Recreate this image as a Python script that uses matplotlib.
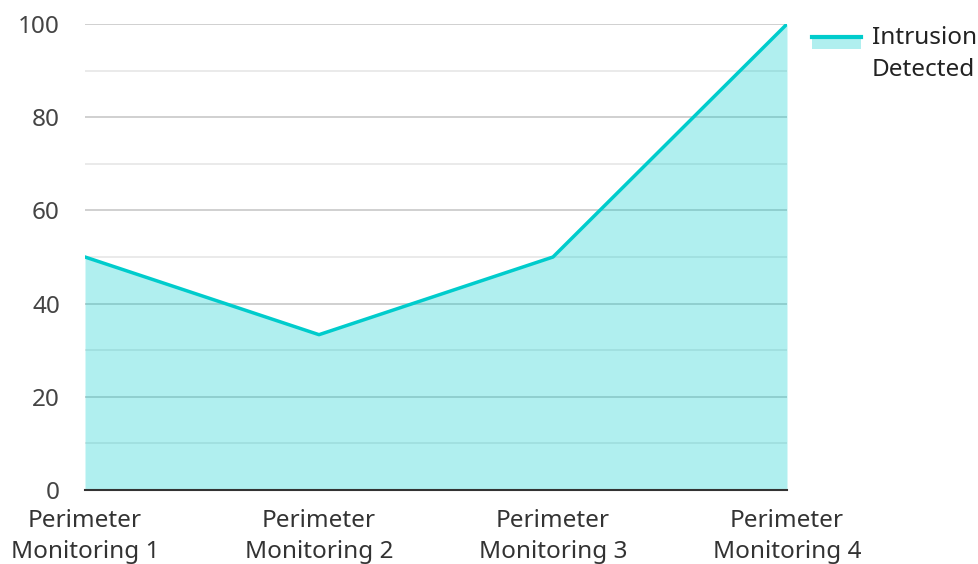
import matplotlib.pyplot as plt
from matplotlib.patches import Rectangle
from matplotlib.lines import Line2D
from matplotlib.legend_handler import HandlerBase

plt.rcParams["font.family"] = ["Noto Sans", "DejaVu Sans"]

categories = ["Perimeter\nMonitoring 1", "Perimeter\nMonitoring 2",
              "Perimeter\nMonitoring 3", "Perimeter\nMonitoring 4"]
intrusion = [50, 33.33, 50, 100]
series_label = "Intrusion\nDetected"

LINE = "#00cccc"
FILL_ALPHA = 0.31


class AreaHandler(HandlerBase):
    def create_artists(self, legend, orig, xd, yd, w, h, fontsize, trans):
        top = yd + h * 0.72 + 10
        patch = Rectangle((xd, top - 8.6), w, 8.6, facecolor=LINE,
                          alpha=FILL_ALPHA, edgecolor="none", transform=trans)
        line = Line2D([xd, xd + w], [top, top], color=LINE,
                      lw=3, transform=trans)
        return [patch, line]


fig = plt.figure(figsize=(9.79, 5.64), dpi=100)
ax = fig.add_axes([85 / 979, 1 - 490 / 564, (787 - 85) / 979, (490 - 24) / 564])

x = list(range(len(categories)))
ax.fill_between(x, intrusion, 0, color=LINE, alpha=FILL_ALPHA, lw=0, zorder=3)
ax.plot(x, intrusion, color=LINE, lw=2.5, zorder=4)

ax.set_xlim(0, len(categories) - 1)
ax.set_ylim(0, 100)
ax.set_yticks(range(0, 101, 20))
ax.set_yticks(range(10, 100, 20), minor=True)
ax.set_xticks(x)
ax.set_xticklabels(categories)
ax.grid(axis="y", which="major", color="#c8c8c8", lw=1.2, zorder=1)
ax.grid(axis="y", which="minor", color="#e6e6e6", lw=1.2, zorder=1)
ax.set_axisbelow(True)
for sp in ["top", "right", "left"]:
    ax.spines[sp].set_visible(False)
ax.spines["bottom"].set_color("#333333")
ax.spines["bottom"].set_linewidth(1.5)
ax.spines["bottom"].set_zorder(5)
ax.tick_params(axis="both", which="both", length=0)
ax.tick_params(axis="y", labelsize=17.5, labelcolor="#444444", pad=18)
ax.tick_params(axis="x", labelsize=17.5, labelcolor="#333333", pad=13.5)
for t in ax.get_xticklabels():
    t.set_linespacing(1.4)

proxy = Rectangle((0, 0), 1, 1)
leg = ax.legend([proxy], [series_label], handler_map={Rectangle: AreaHandler()},
                loc="upper left", bbox_to_anchor=(812 / 979, 1 - 26 / 564),
                bbox_transform=fig.transFigure, frameon=False, fontsize=17.5,
                handlelength=2.0, handletextpad=0.45, borderaxespad=0, borderpad=0,
                labelcolor="#222222")
for t in leg.get_texts():
    t.set_linespacing(1.45)

fig.savefig("out.png", dpi=100)
